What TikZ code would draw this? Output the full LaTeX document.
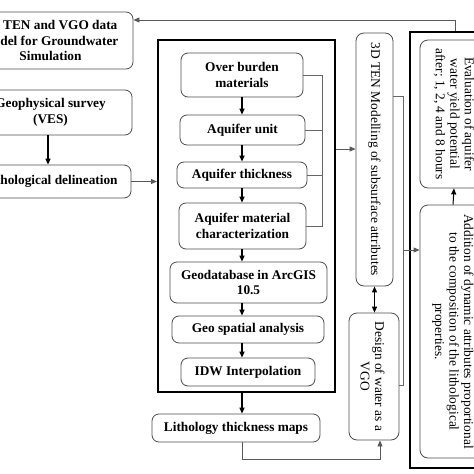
\documentclass[tikz,border=0pt]{standalone}
\usepackage{fontspec}
\setmainfont{Liberation Serif}
\usetikzlibrary{arrows.meta}
\begin{document}
\begin{tikzpicture}[x=1pt,y=-1pt,
  box/.style={draw=black!70, line width=0.8pt, rounded corners=7pt, inner sep=0pt, align=center,
    font=\bfseries\fontsize{13.3}{15.5}\selectfont},
  rbox/.style={draw=black!70, line width=0.8pt, rounded corners=8pt, inner sep=0pt},
  rtext/.style={rotate=-90, align=center, inner sep=0pt, font=\fontsize{13.4}{14.5}\selectfont},
  frame/.style={draw=black, line width=2pt, inner sep=0pt},
  arr/.style={-{Triangle[length=6pt,width=5pt]}, line width=1.5pt, black},
  tarr/.style={-{Triangle[length=6pt,width=5pt]}, line width=0.8pt, draw=black!65},
  dbl/.style={{Triangle[length=6pt,width=5pt]}-{Triangle[length=6pt,width=5pt]}, line width=1pt, black},
  link/.style={line width=0.8pt, draw=black!60}]
\useasboundingbox (0,0) rectangle (474,474);
\clip (0,0) rectangle (474,474);
% left column
\node[box, minimum width=165, minimum height=57] (tenvgo) at (50.5,40.5) {3D TEN and VGO data\\model for Groundwater\\Simulation};
\node[box, minimum width=163, minimum height=45] (geo) at (50.5,112.5) {Geophysical survey\\(VES)};
\node[box, minimum width=161, minimum height=33] (lithdel) at (50.5,181.5) {Lithological delineation};
% middle frame
\node[frame, minimum width=177, minimum height=352] (big1) at (246.5,216) {};
\node[box, minimum width=122, minimum height=44] (over) at (242,75) {Over burden\\materials};
\node[box, minimum width=125, minimum height=30] (aqunit) at (242.5,130) {Aquifer unit};
\node[box, minimum width=130, minimum height=26] (aqthick) at (242,175) {Aquifer thickness};
\node[box, minimum width=127, minimum height=46] (aqmat) at (242.5,226) {Aquifer material\\characterization};
\node[box, minimum width=157, minimum height=41] (geodb) at (248.5,282.5) {Geodatabase in ArcGIS\\10.5};
\node[box, minimum width=152, minimum height=27] (geosp) at (248,329.5) {Geo spatial analysis};
\node[box, minimum width=134, minimum height=28] (idw) at (248,372) {IDW Interpolation};
\node[box, minimum width=168, minimum height=28] (lithmap) at (236,428) {Lithology thickness maps};
% 3D TEN and design
\node[rbox, minimum width=37, minimum height=253] (ten3d) at (374.5,159.5) {};
\node[rtext] at (ten3d) {3D TEN Modelling of subsurface attributes};
\node[rbox, minimum width=50, minimum height=127] (design) at (374,376.5) {};
\node[rtext] at (372.5,376.5) {Design of water as a\\VGO};
% right frame
\node[frame, minimum width=90, minimum height=436] (big2) at (455,250) {};
\node[rbox, minimum width=68, minimum height=148] (evalb) at (454,114) {};
\node[rtext] at (evalb) {Evaluation of aquifer\\water yield potential\\after; 1, 2, 4 and 8 hours};
\node[rbox, minimum width=66, minimum height=253] (addb) at (453,331.5) {};
\node[rtext] at (addb) {Addition of dynamic attributes proportional\\to the composition of the lithological\\properties.};
% coordinates
\coordinate (ax) at (242,0);
\coordinate (br) at (322,0);
\coordinate (ay) at (0,149);
\coordinate (c1) at (380,459);
\coordinate (r1) at (403,96);
\coordinate (r2) at (403,385);
\coordinate (r3) at (403,250);
\coordinate (t1) at (455,20);
% connectors
\draw[arr] (geo.south -| 48,0) -- (lithdel.north -| 48,0);
\draw[tarr] (lithdel.east) -- (lithdel.east -| big1.west);
\draw[arr] (over.south -| ax) -- (aqunit.north -| ax);
\draw[arr] (aqunit.south -| ax) -- (aqthick.north -| ax);
\draw[arr] (aqthick.south -| ax) -- (aqmat.north -| ax);
\draw[arr] (aqmat.south -| ax) -- (geodb.north -| ax);
\draw[arr] (geodb.south -| ax) -- (geosp.north -| ax);
\draw[arr] (geosp.south -| ax) -- (idw.north -| ax);
\draw[arr] (big1.south -| ax) -- (lithmap.north -| ax);
\draw[link] (over.east) -- (over.east -| br) -- (aqmat.east -| br) -- (aqmat.east);
\draw[link] (aqunit.east) -- (aqunit.east -| br);
\draw[link] (aqthick.east) -- (aqthick.east -| br);
\draw[tarr] (big1.east |- ay) -- (ten3d.west |- ay);
\draw[dbl] (ten3d.south) -- (ten3d.south |- design.north);
\draw[tarr] (lithmap.south -| ax) |- (c1) -- (c1 |- design.south);
\draw[link] (ten3d.east |- r1) -- (r1) -- (r2) -- (r2 -| design.east);
\draw[tarr] (r3) -- (r3 -| addb.west);
\draw[arr, line width=1pt] (addb.north) -- (evalb.south);
\draw[tarr] (t1 |- big2.north) -- (t1) -- (t1 -| tenvgo.east);
\end{tikzpicture}
\end{document}
